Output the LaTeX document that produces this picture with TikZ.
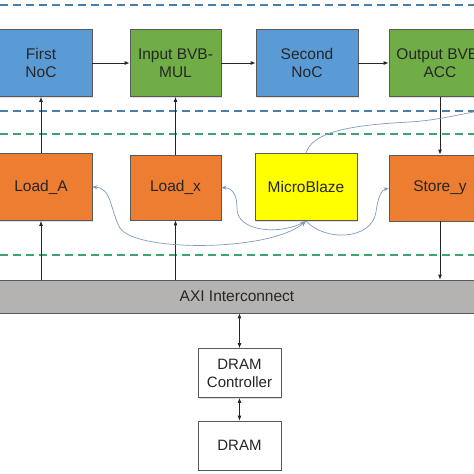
\documentclass[tikz,border=0pt]{standalone}
\usepackage{fontspec}
\setmainfont{Liberation Sans}
\usetikzlibrary{arrows.meta,shadows}

\definecolor{nocblue}{HTML}{5B9BD5}
\definecolor{bvbgreen}{HTML}{70AD47}
\definecolor{ldorange}{HTML}{ED7D31}
\definecolor{mbyellow}{HTML}{FFFF00}
\definecolor{axigray}{HTML}{B5B3B2}
\definecolor{dashblue}{HTML}{4A7EA8}
\definecolor{dashgreen}{HTML}{3AA56E}
\definecolor{linkblue}{HTML}{8099C2}

\tikzset{
  blk/.style={draw=black!65, line width=0.7pt, minimum width=102pt, minimum height=67pt,
    align=center, text=black!85, font=\fontsize{15.5}{18}\selectfont,
    drop shadow={shadow xshift=1.2pt, shadow yshift=-1.2pt, opacity=0.25}},
  narrow/.style={blk, minimum width=91pt},
  memblk/.style={blk, fill=white, minimum width=83pt, minimum height=49pt, font=\fontsize{15}{18}\selectfont},
  sep/.style={dash pattern=on 8pt off 5pt, line width=1.1pt},
  wire/.style={-{Latex[length=5pt,width=4pt]}, line width=0.9pt, black!85},
  link/.style={-{Stealth[length=5pt,width=4pt]}, line width=0.7pt, linkblue}
}

\begin{document}
\begin{tikzpicture}[x=1pt,y=-1pt]
  \useasboundingbox (0,0) rectangle (474,474);

  % Dashed separators
  \draw[sep, dashblue] (0,5) -- (474,5);
  \draw[sep, dashblue] (0,111) -- (474,111);
  \draw[sep, dashgreen] (0,134) -- (474,134);
  \draw[sep, dashgreen] (0,255) -- (474,255);

  % Top row
  \node[blk, fill=nocblue] (firstnoc) at (41,63) {First\\NoC};
  \node[narrow, fill=bvbgreen] (bvbmul) at (175.5,63) {Input BVB-\\MUL};
  \node[blk, fill=nocblue] (secondnoc) at (307,63) {Second\\NoC};
  \node[blk, fill=bvbgreen] (bvbacc) at (440,63) {Output BVB-\\ACC};

  % Second row
  \node[blk, fill=ldorange] (loada) at (41,187) {Load\_A};
  \node[narrow, fill=ldorange, minimum height=65pt] (loadx) at (175.5,187.5) {Load\_x};
  \node[blk, fill=mbyellow] (mblaze) at (306,187) {MicroBlaze};
  \node[blk, fill=ldorange, minimum height=66pt] (storey) at (440,188) {Store\_y};

  % Bus and memory
  \node[blk, fill=axigray, minimum width=500pt, minimum height=33pt] (axi) at (237,296.5) {AXI Interconnect};
  \node[memblk] (dramctrl) at (239.5,373) {DRAM\\Controller};
  \node[memblk] (dram) at (239.5,445.5) {DRAM};
  \coordinate (offright) at (480,111);

  % Data path
  \draw[wire] (firstnoc) -- (bvbmul);
  \draw[wire] (bvbmul) -- (secondnoc);
  \draw[wire] (secondnoc) -- (bvbacc);
  \draw[wire] (loada) -- (firstnoc);
  \draw[wire] (loadx) -- (bvbmul);
  \draw[wire] (bvbacc) -- (storey);
  \draw[wire] (loada.south |- axi.north) -- (loada.south);
  \draw[wire] (loadx.south |- axi.north) -- (loadx.south);
  \draw[wire] (storey.south) -- (storey.south |- axi.north);
  \draw[wire, {Latex[length=5pt,width=4pt]}-{Latex[length=5pt,width=4pt]}] (axi.south -| dramctrl.north) -- (dramctrl.north);
  \draw[wire, {Latex[length=5pt,width=4pt]}-{Latex[length=5pt,width=4pt]}] (dramctrl) -- (dram);

  % Control links from MicroBlaze
  \draw[link, {Stealth[length=6pt,width=5pt]}-{Stealth[length=5pt,width=4pt]}] (mblaze.south) .. controls (270,252) and (135,252) .. (120,228) .. controls (110,210) and (112,188) .. (loada.east);
  \draw[link] (mblaze.south) .. controls (282,236) and (236,232) .. (237,208) .. controls (237,194) and (232,188) .. (loadx.east);
  \draw[link] (mblaze.south) .. controls (325,242) and (372,240) .. (376,212) .. controls (378,196) and (382,190) .. (storey.west);
  \draw[line width=0.7pt, linkblue] (mblaze.north) .. controls (312,132) and (350,125) .. (410,122) .. controls (440,120) and (460,114) .. (offright);
\end{tikzpicture}
\end{document}
